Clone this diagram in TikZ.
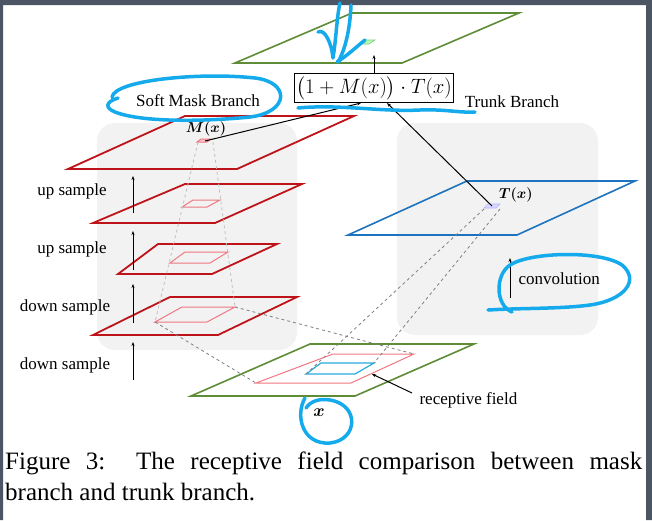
\documentclass[tikz,border=0pt]{standalone}
\usepackage{amsmath,amssymb,bm}
\usepackage{fontspec}
\setmainfont{Liberation Serif}
\usetikzlibrary{arrows.meta}
\definecolor{cRed}{RGB}{190,20,25}
\definecolor{cPink}{RGB}{240,120,130}
\definecolor{cGrn}{RGB}{95,140,55}
\definecolor{cBlu}{RGB}{30,115,190}
\definecolor{cCyn}{RGB}{40,170,220}
\definecolor{cInk}{RGB}{20,170,235}
\definecolor{cFrame}{RGB}{75,85,100}
\begin{document}
\begin{tikzpicture}[x=1pt,y=-1pt,
  rl/.style={draw=cRed,line width=1.8pt,line join=miter},
  pk/.style={draw=cPink,line width=1pt},
  gl/.style={draw=cGrn,line width=1.6pt},
  bl/.style={draw=cBlu,line width=1.6pt},
  cl/.style={draw=cCyn,line width=1.2pt},
  gdash/.style={draw=gray,dashed,line width=0.8pt},
  ldash/.style={draw=gray!50,dashed,line width=0.8pt},
  panel/.style={fill=gray!10,rounded corners=18pt},
  lab/.style={font=\fontsize{17}{19}\selectfont},
  arr/.style={-{Stealth[length=4pt]},line width=1pt},
  ink/.style={draw=cInk,line width=3.5pt,line cap=round,line join=round}]
\useasboundingbox (0,0) rectangle (652,520);
\fill[white] (0,0) rectangle (652,520);
\fill[cFrame] (0,0) rectangle (652,5) (0,0) rectangle (3,520) (646,0) rectangle (652,520);
% panels
\fill[panel] (97,123) rectangle (297,350);
\fill[panel] (397,123) rectangle (598,335);
% top green
\draw[gl] (352,13) -- (519,13) -- (402,63) -- (235,63) -- cycle;
\draw[draw=green!60!black!50,fill=green!30,line width=0.6pt] (365,40) -- (375,40) -- (369,44) -- (359,44) -- cycle;
\node[draw,line width=0.8pt,inner sep=2pt,font=\fontsize{19.5}{22}\selectfont] (box) at (374,88) {$\bigl(1+M(x)\bigr)\cdot T(x)$};
\coordinate (topin) at (374,55);
\coordinate (bin) at (374,73);
\draw[arr] (bin) -- (topin);
\node[lab] (smb) at (198,101) {Soft Mask Branch};
\node[lab] (tb) at (512,102) {Trunk Branch};
% red layers
\draw[rl] (185,116) -- (354,116) -- (237,169) -- (68,169) -- cycle;
\draw[rl] (185,184) -- (302,184) -- (215,223) -- (93,223) -- cycle;
\draw[rl] (158,244) -- (277,244) -- (212,274) -- (118,274) -- cycle;
\draw[rl] (170,297) -- (297,297) -- (218,335) -- (93,335) -- cycle;
\draw[pk,fill=cPink!40] (201,139) -- (211,139) -- (207,142) -- (197,142) -- cycle;
\draw[pk] (193,200) -- (220,200) -- (207,207) -- (182,207) -- cycle;
\draw[pk] (185,252) -- (228,252) -- (210,263) -- (170,263) -- cycle;
\draw[pk] (182,307) -- (235,307) -- (207,322) -- (155,322) -- cycle;
\coordinate (m) at (205,141);
\node[font=\fontsize{13.5}{15}\selectfont] (mx) at (206,129) {$\bm{M(x)}$};
\draw[ldash] (198,142) -- (155,322);
\draw[ldash] (213,142) -- (235,307);
% blue layer
\draw[bl] (467,181) -- (635,181) -- (517,235) -- (348,235) -- cycle;
\draw[draw=blue!30,fill=blue!15,line width=0.6pt] (488,204) -- (500,204) -- (496,208) -- (484,208) -- cycle;
\coordinate (t) at (492,206);
\node[font=\fontsize{13.5}{15}\selectfont] (tx) at (516,195) {$\bm{T(x)}$};
\coordinate (bm) at (361,103);
\coordinate (bt) at (387,103);
\draw[arr] (m) -- (bm);
\draw[arr] (t) -- (bt);
% bottom
\draw[gl] (310,344) -- (474,344) -- (355,396) -- (191,396) -- cycle;
\draw[pk] (333,354) -- (414,354) -- (351,383) -- (256,383) -- cycle;
\draw[cl] (321,363) -- (374,363) -- (355,374) -- (306,374) -- cycle;
\draw[gdash] (155,322) -- (256,383);
\draw[gdash] (235,307) -- (414,354);
\draw[gdash] (484,209) -- (306,374);
\draw[gdash] (500,209) -- (374,363);
\node[lab] (x) at (319,413) {$\bm{x}$};
\node[lab,anchor=west] (rf) at (416,400) {receptive field};
\coordinate (rfa) at (372,374);
\draw[arr] (412,393) -- (rfa);
% side labels and arrows
\node[lab] (u1) at (72,191) {up sample};
\node[lab] (u2) at (72,249) {up sample};
\node[lab] (d1) at (65,307) {down sample};
\node[lab] (d2) at (65,365) {down sample};
\foreach \a/\b in {213/176,270/231,323/284,380/342}
  \draw[arr] (133,\a) -- (133,\b);
\draw[arr] (510,298) -- (510,258);
\node[lab,anchor=west] (conv) at (515,279) {convolution};
% caption
\node[anchor=north west,text width=637pt,align=justify,inner sep=0pt,font=\fontsize{25}{31}\selectfont] (cap) at (5,452) {Figure 3:\ \ The receptive field comparison between mask\linebreak branch and trunk branch.};
% hand annotations
\draw[ink] (112,97) .. controls (115,80) and (200,72) .. (255,78) .. controls (290,82) and (290,112) .. (250,117) .. controls (200,122) and (140,122) .. (115,112) .. controls (105,108) and (105,102) .. (118,98);
\draw[ink] (298,108) .. controls (340,104) and (380,112) .. (420,110) .. controls (445,109) and (460,113) .. (475,112);
\draw[ink] (512,312) .. controls (495,305) and (495,275) .. (510,265) .. controls (530,252) and (600,250) .. (622,265) .. controls (640,280) and (625,300) .. (590,305) .. controls (560,309) and (520,308) .. (488,310);
\draw[ink] (305,398) .. controls (295,415) and (302,445) .. (330,443) .. controls (358,440) and (360,405) .. (330,400) .. controls (318,398) and (310,402) .. (306,408);
\draw[ink] (318,32) .. controls (325,28) and (332,45) .. (333,58) .. controls (336,40) and (337,15) .. (340,3);
\draw[ink] (338,62) .. controls (345,50) and (350,30) .. (351,5);
\draw[ink] (337,62) .. controls (348,55) and (355,48) .. (365,40);
\end{tikzpicture}
\end{document}
